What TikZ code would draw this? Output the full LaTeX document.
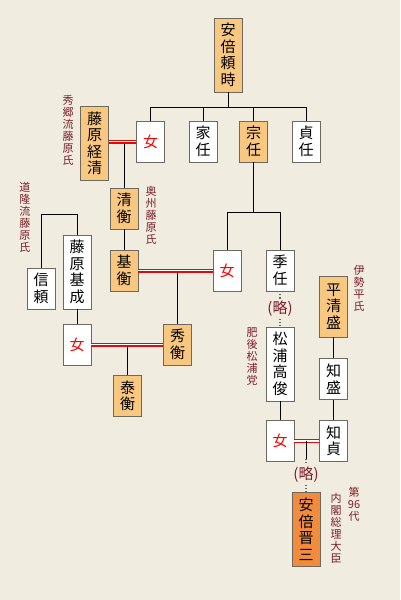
\documentclass[tikz,border=0pt]{standalone}
\usepackage{fontspec}
\newfontfamily\jp{Noto Sans CJK JP}
\usepackage{tikz}
\usetikzlibrary{positioning}
\definecolor{bgcol}{RGB}{240,237,224}
\definecolor{orcol}{RGB}{249,200,128}
\definecolor{pmcol}{RGB}{240,140,60}
\definecolor{edgecol}{RGB}{110,105,95}
\definecolor{notecol}{RGB}{125,30,40}
\definecolor{marcol}{RGB}{225,10,10}
\tikzset{
  st/.style={rectangle,draw=edgecol,fill=white,minimum width=28pt,inner sep=0pt,align=center,font=\jp\fontsize{15}{16.5}\selectfont},
  two/.style={st,minimum height=41pt},
  three/.style={st,minimum height=61pt},
  four/.style={st,minimum height=74pt},
  kin/.style={fill=orcol},
  onna/.style={two,text=red},
  note/.style={align=center,text=notecol,inner sep=0pt,font=\jp\fontsize{11}{12}\selectfont},
  ryaku/.style={text=notecol,inner sep=2pt,font=\jp\fontsize{15}{15}\selectfont},
  pe/.style={draw=black,line width=0.9pt},
  me/.style={draw=marcol,double=white,double distance=1.8pt,line width=1.1pt},
  de/.style={draw=edgecol,line width=1.1pt,dotted}
}
\begin{document}
\begin{tikzpicture}[x=1pt,y=-1pt]
  \fill[bgcol] (0,0) rectangle (400,600);
  \useasboundingbox (0,0) rectangle (400,600);
  % Abe
  \node[four,kin] (yoritoki) at (228,55) {安\\倍\\頼\\時};
  \node[onna] (onna1) at (150.5,141.5) {女};
  \node[two] (ieto) at (203,141.5) {家\\任};
  \node[two,kin] (muneto) at (253.5,141.5) {宗\\任};
  \node[two] (sadato) at (306,141.5) {貞\\任};
  \node[onna] (onna2) at (227,270.5) {女};
  \node[two] (sueto) at (280,270.5) {季\\任};
  \node[four] (takatoshi) at (280,364) {松\\浦\\高\\俊};
  \node[onna] (onna3) at (280,441) {女};
  \node[four,fill=pmcol] (shinzo) at (306,529) {安\\倍\\晋\\三};
  % Fujiwara
  \node[four,kin] (tsunekiyo) at (94.5,143.5) {藤\\原\\経\\清};
  \node[two,kin] (kiyohira) at (124,208.5) {清\\衡};
  \node[two,kin] (motohira) at (124,270.5) {基\\衡};
  \node[two,kin] (hidehira) at (177.5,344.5) {秀\\衡};
  \node[two,kin] (yasuhira) at (127.5,396) {泰\\衡};
  \node[two] (nobuyori) at (41,288.5) {信\\頼};
  \node[four] (motonari) at (77,272) {藤\\原\\基\\成};
  \node[onna] (onna4) at (77,344.5) {女};
  % Taira
  \node[three,kin] (kiyomori) at (333.5,306.5) {平\\清\\盛};
  \node[two] (tomomori) at (333.5,379) {知\\盛};
  \node[two] (tomosada) at (333.5,441) {知\\貞};
  % lines
  \coordinate (t1) at (228,107);
  \draw[pe] (yoritoki) -- (t1);
  \foreach \c in {onna1,ieto,muneto,sadato}{\draw[pe] (t1) -| (\c.north);}
  \coordinate (t2) at (253.5,212);
  \draw[pe] (muneto) -- (t2);
  \foreach \c in {onna2,sueto}{\draw[pe] (t2) -| (\c.north);}
  \coordinate (t3) at (41,214);
  \draw[pe] (nobuyori.north) -- (t3) -| (motonari.north);
  \foreach \a/\b in {kiyohira/motohira,motonari/onna4,kiyomori/tomomori,tomomori/tomosada,takatoshi/onna3}{\draw[pe] (\a) -- (\b);}
  \draw[pe] (kiyohira.north) -- (kiyohira.north |- onna1.west);
  \draw[pe] (hidehira.north) -- (hidehira.north |- motohira.east);
  \draw[pe] (yasuhira.north) -- (yasuhira.north |- onna4.east);
  \draw[me] (tsunekiyo.east |- onna1.west) -- (onna1.west);
  \draw[me] (motohira) -- (onna2);
  \draw[me] (onna4) -- (hidehira);
  \draw[me] (onna3) -- (tomosada);
  % omitted generations
  \node[ryaku] (r1) at (280,309) {(略)};
  \draw[de] (sueto) -- (r1);
  \draw[de] (r1) -- (takatoshi);
  \node[ryaku] (r2) at (306,475) {(略)};
  \coordinate (s1) at (306,459);
  \draw[pe] (s1 |- onna3.east) -- (s1);
  \draw[de] (s1) -- (r2);
  \draw[de] (r2) -- (shinzo);
  % clan notes
  \node[note] (n1) at (68,130) {秀\\郷\\流\\藤\\原\\氏};
  \node[note] (n2) at (25,217) {道\\隆\\流\\藤\\原\\氏};
  \node[note] (n3) at (151,215) {奥\\州\\藤\\原\\氏};
  \node[note] (n4) at (252,356) {肥\\後\\松\\浦\\党};
  \node[note] (n5) at (359,288) {伊\\勢\\平\\氏};
  \node[note] (n6) at (354,504) {第\\96\\代};
  \node[note] (n7) at (336,528) {内\\閣\\総\\理\\大\\臣};
\end{tikzpicture}
\end{document}
